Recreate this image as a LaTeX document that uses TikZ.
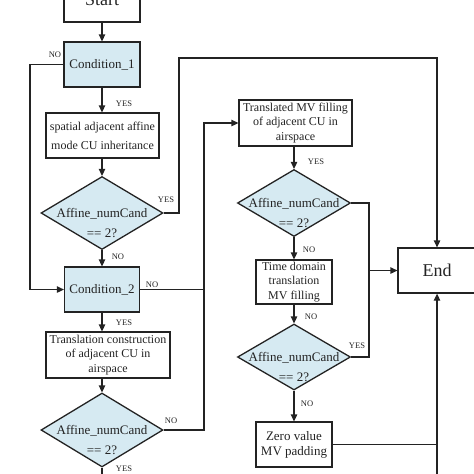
\documentclass[tikz,border=0pt]{standalone}
\usepackage{fontspec}
\setmainfont{Liberation Serif}
\usetikzlibrary{shapes.geometric,arrows.meta}
\definecolor{condblue}{RGB}{214,234,242}
\definecolor{linegray}{RGB}{35,35,35}
\begin{document}
\begin{tikzpicture}[x=1pt,y=-1pt,color=linegray,line width=1.3pt,
        box/.style={draw, rectangle, inner sep=1pt, align=center, font=\fontsize{12}{14.5}\selectfont},
        cond/.style={box, fill=condblue, font=\fontsize{13}{15}\selectfont},
        dia/.style={draw, diamond, fill=condblue, inner sep=0pt},
        numtxt/.style={label={[font=\fontsize{13}{20}\selectfont, align=center, yshift=-10pt]center:{Affine\_numCand\\== 2?}}},
        arr/.style={-{Triangle[length=7pt,width=6.5pt]}},
        lbl/.style={font=\fontsize{8.5}{9}\selectfont, inner sep=0pt}]
        \useasboundingbox (0,0) rectangle (474,474);
        % left column
        \node[box, minimum width=76pt, minimum height=45pt, font=\fontsize{18}{20}\selectfont] (start) at (102,-0.5) {Start};
        \node[cond, minimum width=76pt, minimum height=45pt] (cond1) at (102,64.5) {Condition\_1};
        \node[box, minimum width=113pt, minimum height=45pt, font=\fontsize{12}{19}\selectfont] (spatial) at (102.5,135.5) {spatial adjacent affine\\mode CU inheritance};
        \node[dia, minimum width=122pt, minimum height=73pt, numtxt] (dia1) at (102,213) {};
        \node[cond, minimum width=75pt, minimum height=45pt] (cond2) at (102,289.5) {Condition\_2};
        \node[box, minimum width=124pt, minimum height=46pt] (trans) at (108,355) {Translation construction\\of adjacent CU in\\airspace};
        \node[dia, minimum width=122pt, minimum height=74pt, numtxt] (dia3) at (102,430) {};
        % right column
        \node[box, minimum width=113pt, minimum height=46pt] (trmv) at (295.5,123) {Translated MV filling\\of adjacent CU in\\airspace};
        \node[dia, minimum width=113pt, minimum height=67pt, numtxt] (dia2) at (294,203) {};
        \node[box, minimum width=76pt, minimum height=44pt] (time) at (294,282) {Time domain\\translation\\MV filling};
        \node[dia, minimum width=113pt, minimum height=66pt, numtxt] (dia4) at (294,357) {};
        \node[box, minimum width=76pt, minimum height=45pt, font=\fontsize{13}{15}\selectfont] (zero) at (294,444.5) {Zero value\\MV padding};
        \node[box, minimum width=78pt, minimum height=45pt, font=\fontsize{18}{20}\selectfont] (end) at (437,270.5) {End};
        % connectors
        \draw[arr] (start.south) -- (cond1.north);
        \draw[arr] (cond1.west) -- (30,64.5) |- (cond2.west);
        \draw[arr] (cond1.south) -- (spatial.north -| cond1.south);
        \draw[arr] (spatial.south -| dia1.north) -- (dia1.north);
        \draw[arr] (dia1.east) -- (179,213) -- (179,58) -| (end.north);
        \draw[arr] (dia1.south) -- (cond2.north);
        \draw (cond2.east) -- (204,289.5);
        \draw[arr] (cond2.south) -- (cond2.south |- trans.north);
        \draw[arr] (trans.south -| dia3.north) -- (dia3.north);
        \draw[arr] (dia3.east) -- (204,430) |- (trmv.west);
        \draw (dia3.south) -- (102,480);
        \draw[arr] (trmv.south -| dia2.north) -- (dia2.north);
        \draw[arr] (dia2.east) -- (369,203) |- (end.west);
        \draw[arr] (dia2.south) -- (time.north);
        \draw[arr] (time.south) -- (dia4.north);
        \draw (dia4.east) -| (369,271);
        \draw[arr] (dia4.south) -- (zero.north);
        \draw (zero.east) -- (437,444.5);
        \draw[arr] (437,480) -- (end.south);
        % branch labels
        \node[lbl] (no1) at (55,55) {NO};
        \node[lbl] (yes1) at (124,104) {YES};
        \node[lbl] (yes2) at (166,200) {YES};
        \node[lbl] (no2) at (118,257) {NO};
        \node[lbl] (no3) at (152,285) {NO};
        \node[lbl] (yes3) at (124,323) {YES};
        \node[lbl] (no4) at (171,421) {NO};
        \node[lbl] (yes4) at (124,469) {YES};
        \node[lbl] (yes5) at (316,162) {YES};
        \node[lbl] (no5) at (309,250) {NO};
        \node[lbl] (no6) at (311,317) {NO};
        \node[lbl] (yes6) at (357,346) {YES};
        \node[lbl] (no7) at (307,404) {NO};
\end{tikzpicture}
\end{document}
